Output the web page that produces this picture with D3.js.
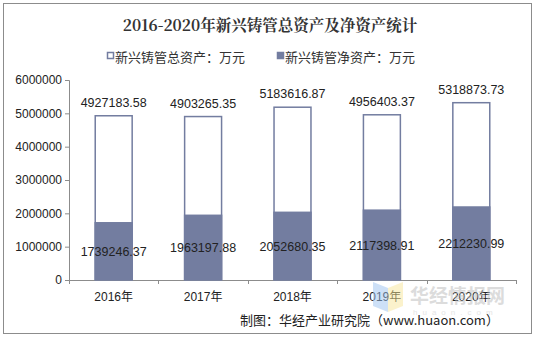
<!DOCTYPE html>
<html>
<head>
<meta charset="utf-8">
<script src="https://cdn.jsdelivr.net/npm/d3@7"></script>
<style>
  body { margin: 0; background: #fff; }
  svg { display: block; }
</style>
</head>
<body>
<div id="chart"></div>
<script>
// 数据
const YEARS = ["2016年", "2017年", "2018年", "2019年", "2020年"];
const TOTAL_ASSETS = [4927183.58, 4903265.35, 5183616.87, 4956403.37, 5318873.73];
const NET_ASSETS = [1739246.37, 1963197.88, 2052680.35, 2117398.91, 2212230.99];
const Y_TICKS = [0, 1000000, 2000000, 3000000, 4000000, 5000000, 6000000];

const TITLE = "2016-2020年新兴铸管总资产及净资产统计";
const LEGEND = ["新兴铸管总资产：万元", "新兴铸管净资产：万元"];
const SOURCE = "制图：华经产业研究院（www.huaon.com）";

const BAR_COLOR = "#737da0";
const AXIS_COLOR = "#8c8c8c";
const FONT = "'Liberation Sans', Arial, 'Noto Sans CJK SC', sans-serif";

const width = 535, height = 337;
const margin = { top: 80, right: 19, bottom: 57, left: 69 };
const innerW = width - margin.left - margin.right;
const innerH = height - margin.top - margin.bottom;

const svg = d3.select("#chart").append("svg")
  .attr("width", width)
  .attr("height", height);

// 外框
svg.append("rect")
  .attr("x", 3.5).attr("y", 3.5)
  .attr("width", 528).attr("height", 330)
  .attr("fill", "#fff")
  .attr("stroke", "#8c8c8c")
  .attr("stroke-width", 1);

// 标题
svg.append("text")
  .attr("x", 270).attr("y", 31)
  .attr("text-anchor", "middle")
  .attr("font-family", "'Noto Serif CJK SC', 'DejaVu Serif', 'Noto Sans CJK SC', serif")
  .attr("font-weight", "bold")
  .attr("font-size", "15.5px")
  .attr("fill", "#333")
  .text(TITLE);

// 图例
const legendItems = [
  { x: 107, label: LEGEND[0], fill: "#fff" },
  { x: 277, label: LEGEND[1], fill: BAR_COLOR }
];
legendItems.forEach(it => {
  svg.append("rect")
    .attr("x", it.x + 0.5).attr("y", 52.5)
    .attr("width", 6).attr("height", 6)
    .attr("fill", it.fill)
    .attr("stroke", BAR_COLOR)
    .attr("stroke-width", 1.5);
  svg.append("text")
    .attr("x", it.x + 8).attr("y", 61.5)
    .attr("font-family", "'Noto Sans CJK SC', sans-serif")
    .attr("font-size", "13px")
    .attr("fill", "#333")
    .text(it.label);
});

const g = svg.append("g")
  .attr("transform", `translate(${margin.left}, ${margin.top})`);

const x = d3.scaleBand()
  .domain(YEARS)
  .range([0, innerW])
  .paddingInner(0.57)
  .paddingOuter(0.285);

const y = d3.scaleLinear()
  .domain([0, 6000000])
  .range([innerH, 0]);

// 坐标轴
const yAxis = g.append("g")
  .call(d3.axisLeft(y).tickValues(Y_TICKS).tickFormat(d3.format("d")).tickSize(4).tickPadding(3));
yAxis.selectAll("path, line").attr("stroke", AXIS_COLOR);
yAxis.selectAll("text")
  .attr("font-family", FONT)
  .attr("font-size", "12px")
  .attr("fill", "#222");

// x 轴：分类边界刻度
const xBound = d3.scaleLinear().domain([0, YEARS.length]).range([0, innerW]);
const xAxis = g.append("g")
  .attr("transform", `translate(0, ${innerH})`);
xAxis.append("line")
  .attr("x1", 0).attr("x2", innerW)
  .attr("y1", 0.5).attr("y2", 0.5)
  .attr("stroke", AXIS_COLOR);
xAxis.selectAll(".tk")
  .data(d3.range(YEARS.length + 1))
  .join("line")
  .attr("x1", d => Math.round(xBound(d)) + 0.5)
  .attr("x2", d => Math.round(xBound(d)) + 0.5)
  .attr("y1", 0).attr("y2", 4)
  .attr("stroke", AXIS_COLOR);
xAxis.selectAll(".lbl")
  .data(YEARS)
  .join("text")
  .attr("x", d => x(d) + x.bandwidth() / 2)
  .attr("y", 21)
  .attr("text-anchor", "middle")
  .attr("font-family", FONT)
  .attr("font-size", "12px")
  .attr("fill", "#222")
  .text(d => d);

// 总资产（空心）
g.selectAll(".total")
  .data(YEARS)
  .join("rect")
  .attr("x", d => x(d) + 0.75)
  .attr("y", (d, i) => y(TOTAL_ASSETS[i]))
  .attr("width", x.bandwidth() - 1.5)
  .attr("height", (d, i) => innerH - y(TOTAL_ASSETS[i]))
  .attr("fill", "#fff")
  .attr("stroke", BAR_COLOR)
  .attr("stroke-width", 1.5);

// 净资产（实心）
g.selectAll(".net")
  .data(YEARS)
  .join("rect")
  .attr("x", d => x(d))
  .attr("y", (d, i) => y(NET_ASSETS[i]))
  .attr("width", x.bandwidth())
  .attr("height", (d, i) => innerH - y(NET_ASSETS[i]))
  .attr("fill", BAR_COLOR);

// 数值标签
g.selectAll(".tl")
  .data(YEARS)
  .join("text")
  .attr("x", d => x(d) + x.bandwidth() / 2)
  .attr("y", (d, i) => y(TOTAL_ASSETS[i]) - 9)
  .attr("text-anchor", "middle")
  .attr("font-family", FONT)
  .attr("font-size", "12.5px")
  .attr("fill", "#222")
  .text((d, i) => TOTAL_ASSETS[i].toFixed(2));

g.selectAll(".nl")
  .data(YEARS)
  .join("text")
  .attr("x", d => x(d) + x.bandwidth() / 2)
  .attr("y", (d, i) => (y(NET_ASSETS[i]) + innerH) / 2 + 5)
  .attr("text-anchor", "middle")
  .attr("font-family", FONT)
  .attr("font-size", "12.5px")
  .attr("fill", "#222")
  .text((d, i) => NET_ASSETS[i].toFixed(2));

// 水印
const wm = svg.append("g").attr("opacity", 0.5);
wm.append("polygon")
  .attr("points", "373,282 388,288 388,312 373,306")
  .attr("fill", "#9cc3f0");
wm.append("polygon")
  .attr("points", "388,288 403,282 403,306 388,312")
  .attr("fill", "#f8e79a");
wm.append("text")
  .attr("x", 410).attr("y", 303)
  .attr("font-family", "'Noto Sans CJK SC', sans-serif")
  .attr("font-weight", "bold")
  .attr("font-size", "19px")
  .attr("fill", "#bbb")
  .text("华经情报网");
wm.append("text")
  .attr("x", 413).attr("y", 315)
  .attr("font-family", FONT)
  .attr("font-size", "8px")
  .attr("letter-spacing", "5px")
  .attr("fill", "#ccc")
  .text("huaon.com");

// 来源
svg.append("text")
  .attr("x", 240).attr("y", 325)
  .attr("font-family", "'Noto Sans CJK SC', sans-serif")
  .attr("font-size", "13px")
  .attr("fill", "#222")
  .text(SOURCE);
</script>
</body>
</html>
